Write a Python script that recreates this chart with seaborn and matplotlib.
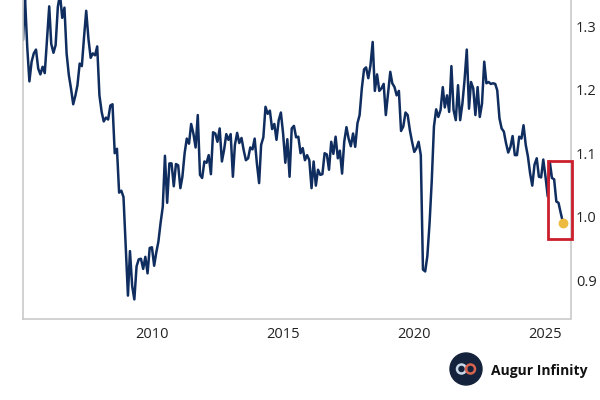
import numpy as np
import pandas as pd
import matplotlib
matplotlib.use("Agg")
import matplotlib.pyplot as plt
import matplotlib.dates as mdates
from matplotlib.patches import Circle, Rectangle
import seaborn as sns

# monthly values, first point is Feb 2005
values = [
    1.278, 1.345, 1.267, 1.213, 1.244, 1.257, 1.263, 1.233, 1.224, 1.236, 1.226, 1.278,
    1.331, 1.272, 1.258, 1.270, 1.330, 1.350, 1.313, 1.329, 1.257, 1.223, 1.202,
    1.177, 1.191, 1.207, 1.241, 1.237, 1.283, 1.324, 1.280, 1.250, 1.257, 1.254, 1.268,
    1.191, 1.165, 1.150, 1.156, 1.153, 1.175, 1.177, 1.100, 1.107, 1.038, 1.041, 1.031,
    0.953, 0.876, 0.946, 0.891, 0.870, 0.922, 0.933, 0.934, 0.918, 0.937, 0.911, 0.951,
    0.952, 0.923, 0.943, 0.961, 0.990, 1.016, 1.096, 1.022, 1.084, 1.084, 1.048, 1.083,
    1.081, 1.045, 1.063, 1.100, 1.123, 1.115, 1.146, 1.131, 1.109, 1.160, 1.066,
    1.061, 1.087, 1.085, 1.097, 1.067, 1.133, 1.131, 1.118, 1.139, 1.087, 1.105, 1.130,
    1.121, 1.130, 1.063, 1.113, 1.132, 1.116, 1.124, 1.105, 1.089, 1.092, 1.109, 1.106,
    1.123, 1.084, 1.053, 1.113, 1.125, 1.173, 1.162, 1.167, 1.138, 1.146, 1.121, 1.152,
    1.164, 1.131, 1.085, 1.122, 1.063, 1.139, 1.143, 1.125, 1.126, 1.100, 1.108, 1.089,
    1.097, 1.089, 1.045, 1.087, 1.049, 1.074, 1.066, 1.067, 1.100, 1.098, 1.074, 1.118,
    1.099, 1.126, 1.092, 1.104, 1.068, 1.118, 1.141, 1.123, 1.111, 1.131, 1.110, 1.147,
    1.160, 1.202, 1.232, 1.235, 1.218, 1.238, 1.275, 1.198, 1.224, 1.198, 1.202, 1.209,
    1.160, 1.194, 1.228, 1.210, 1.204, 1.191, 1.198,
    1.135, 1.142, 1.164, 1.160, 1.136, 1.118, 1.102, 1.108, 1.118, 1.097, 0.917, 0.914,
    0.938, 0.990, 1.058, 1.142, 1.169, 1.157, 1.168, 1.204, 1.172, 1.191, 1.165, 1.237,
    1.168, 1.152, 1.207, 1.152, 1.178, 1.215, 1.263, 1.170, 1.212, 1.202, 1.160, 1.204,
    1.157, 1.178, 1.244, 1.210, 1.212, 1.209, 1.210, 1.209, 1.199, 1.155, 1.139, 1.134,
    1.116, 1.101, 1.110, 1.127, 1.097, 1.097, 1.126, 1.123, 1.144, 1.113, 1.095, 1.068,
    1.049, 1.082, 1.092, 1.063, 1.062, 1.090, 1.063, 1.032, 1.087, 1.061, 1.059, 1.024,
    1.022, 1.006, 0.991,
]
y_ticks = [0.9, 1.0, 1.1, 1.2, 1.3]
x_years = [2010, 2015, 2020, 2025]

dates = pd.date_range("2005-02-01", periods=len(values), freq="MS")
df = pd.DataFrame({"date": dates, "value": values})

sns.set_theme(style="white")
plt.rcParams["font.family"] = ["Open Sans", "DejaVu Sans"]

fig = plt.figure(figsize=(6, 4), dpi=100)
ax = fig.add_axes([23 / 600, 81.5 / 400, 547.5 / 600, 318.5 / 400])

sns.lineplot(data=df, x="date", y="value", color="#0f2d5f", linewidth=1.8, ax=ax)

# last reading
ax.scatter(df["date"].iloc[-1], df["value"].iloc[-1], s=50, color="#edbb3f", zorder=5, linewidths=0)

# red box around the recent drop
x0 = mdates.date2num(pd.Timestamp("2025-02-10"))
x1 = mdates.date2num(pd.Timestamp("2026-01-10"))
ax.add_patch(Rectangle((x0, 0.965), x1 - x0, 0.123, fill=False, edgecolor="#cc1f2d",
                       linewidth=2.0, clip_on=False, zorder=6))

ax.set_xlim(pd.Timestamp("2005-02-01"), pd.Timestamp("2025-12-15"))
ax.set_ylim(0.84, 1.341)
ax.set_xticks([pd.Timestamp(f"{y}-01-01") for y in x_years])
ax.set_xticklabels([str(y) for y in x_years])
ax.set_yticks(y_ticks)
ax.set_yticklabels([f"{t:.1f}" for t in y_ticks])
ax.yaxis.tick_right()
ax.tick_params(axis="both", length=0, labelsize=10.5, labelcolor="#222222")
ax.tick_params(axis="x", pad=6)
ax.tick_params(axis="y", pad=4)
ax.set_xlabel("")
ax.set_ylabel("")
ax.grid(False)

sns.despine(ax=ax, top=True, right=False, left=False, bottom=False)
for side in ["left", "right", "bottom"]:
    ax.spines[side].set_color("#c9c9c9")
    ax.spines[side].set_linewidth(1.2)

# logo and name in the corner
fw, fh = fig.get_size_inches() * fig.dpi
def fig_circle(cx, cy, r, **kw):
    c = Circle((cx, fh - cy), r, transform=None, **kw)
    fig.add_artist(c)

fig_circle(466, 369, 16, color="#14233b")
fig_circle(461.5, 369, 4.5, fill=False, edgecolor="#c9d6e6", linewidth=1.8)
fig_circle(470.5, 369, 4.5, fill=False, edgecolor="#d8634f", linewidth=1.8)
fig.text(491 / 600, 1 - 371 / 400, "Augur Infinity", fontsize=10, fontweight="bold",
         color="#111111", va="center", ha="left")

fig.savefig("out.png", dpi=100)
